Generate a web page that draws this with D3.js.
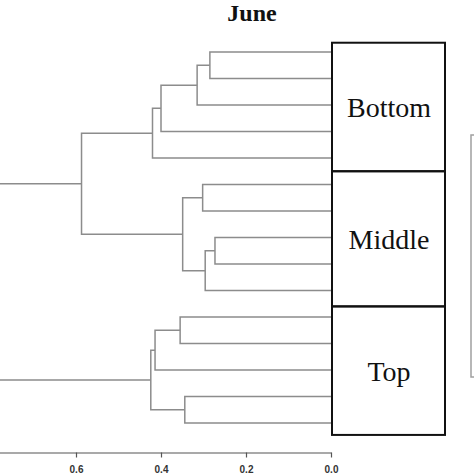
<!DOCTYPE html>
<html>
<head>
<meta charset="utf-8">
<script src="https://cdn.jsdelivr.net/npm/d3@7"></script>
<style>
  html, body { margin: 0; padding: 0; background: #fff; }
  svg { display: block; }
</style>
</head>
<body>
<svg></svg>
<script>
// hclust-style merge table: negative = leaf, positive = earlier merge (1-based)
var mergeLeft  = [-1, 1, 2, 3, -6, -8, 6, 5, 4, -11, 10, -14, 11, 9];
var mergeRight = [-2, -3, -4, -5, -7, -9, -10, 7, 8, -12, -13, -15, 12, 13];
var mergeHeight = [0.285, 0.315, 0.40, 0.42, 0.302, 0.273, 0.296, 0.349, 0.587,
                   0.355, 0.414, 0.344, 0.424, 0.84];
var groups = ["Bottom", "Middle", "Top"];
var groupBreaks = [-0.35, 4.5, 9.6, 14.45];   // in leaf units
var tickValues = [0, 0.2, 0.4, 0.6];
var title = "June";

window.onload = function() {
    var width = 474,
        height = 474,
        nLeaves = mergeLeft.length + 1;

    var svg = d3.select("svg")
        .attr("width", width)
        .attr("height", height);

    var x = d3.scaleLinear().domain([0, 0.8]).range([331, -9]);
    var y = d3.scaleLinear().domain([0, nLeaves - 1]).range([52, 423]);

    // leaf order in the plot is just 1..15 here
    var nodes = [];
    function pos(id) {
        if (id < 0) return {y: y(-id - 1), h: 0};
        return nodes[id - 1];
    }
    mergeLeft.forEach(function(l, i) {
        var a = pos(l), b = pos(mergeRight[i]);
        nodes.push({y: (a.y + b.y) / 2, h: mergeHeight[i], a: a, b: b});
    });

    var g = svg.append("g");
    g.selectAll("path.link")
        .data(nodes)
        .enter().append("path")
        .attr("class", "link")
        .attr("d", function(d) {
            return "M" + x(d.a.h) + "," + d.a.y +
                   "H" + x(d.h) + "V" + d.b.y + "H" + x(d.b.h);
        })
        .attr("fill", "none")
        .attr("stroke", "#8c8c8c")
        .attr("stroke-width", 1.5);

    // axis
    var axis = svg.append("g")
        .attr("transform", "translate(0,452.5)")
        .call(d3.axisBottom(x).tickValues(tickValues)
              .tickFormat(d3.format(".1f")).tickSize(5).tickSizeOuter(0));
    axis.select(".domain").attr("stroke", "#555").attr("stroke-width", 1.2);
    axis.selectAll(".tick line").attr("stroke", "#555").attr("stroke-width", 1.2);
    axis.selectAll(".tick text")
        .attr("font-family", "Liberation Sans, Arial, sans-serif")
        .attr("font-size", 10)
        .attr("font-weight", "bold")
        .attr("fill", "#333")
        .attr("dy", "1.2em");

    // group boxes
    var boxes = svg.append("g");
    boxes.selectAll("rect")
        .data(groups)
        .enter().append("rect")
        .attr("x", 332)
        .attr("width", 113)
        .attr("y", function(d, i) { return y(groupBreaks[i]); })
        .attr("height", function(d, i) { return y(groupBreaks[i + 1]) - y(groupBreaks[i]); })
        .attr("fill", "none")
        .attr("stroke", "#111")
        .attr("stroke-width", 2);
    boxes.selectAll("text")
        .data(groups)
        .enter().append("text")
        .attr("x", 389)
        .attr("y", function(d, i) { return (y(groupBreaks[i]) + y(groupBreaks[i + 1])) / 2 + 10; })
        .attr("text-anchor", "middle")
        .attr("font-family", "Liberation Serif, Times New Roman, serif")
        .attr("font-size", 28)
        .attr("fill", "#111")
        .text(function(d) { return d; });

    // edge of the neighbouring panel
    svg.append("rect")
        .attr("x", 471).attr("y", 135)
        .attr("width", 20).attr("height", 242)
        .attr("fill", "none")
        .attr("stroke", "#a0a0a0")
        .attr("stroke-width", 1.5);

    svg.append("text")
        .attr("x", 252)
        .attr("y", 21)
        .attr("text-anchor", "middle")
        .attr("font-family", "Liberation Serif, Times New Roman, serif")
        .attr("font-weight", "bold")
        .attr("font-size", 24)
        .attr("fill", "#111")
        .text(title);
}
</script>
</body>
</html>
